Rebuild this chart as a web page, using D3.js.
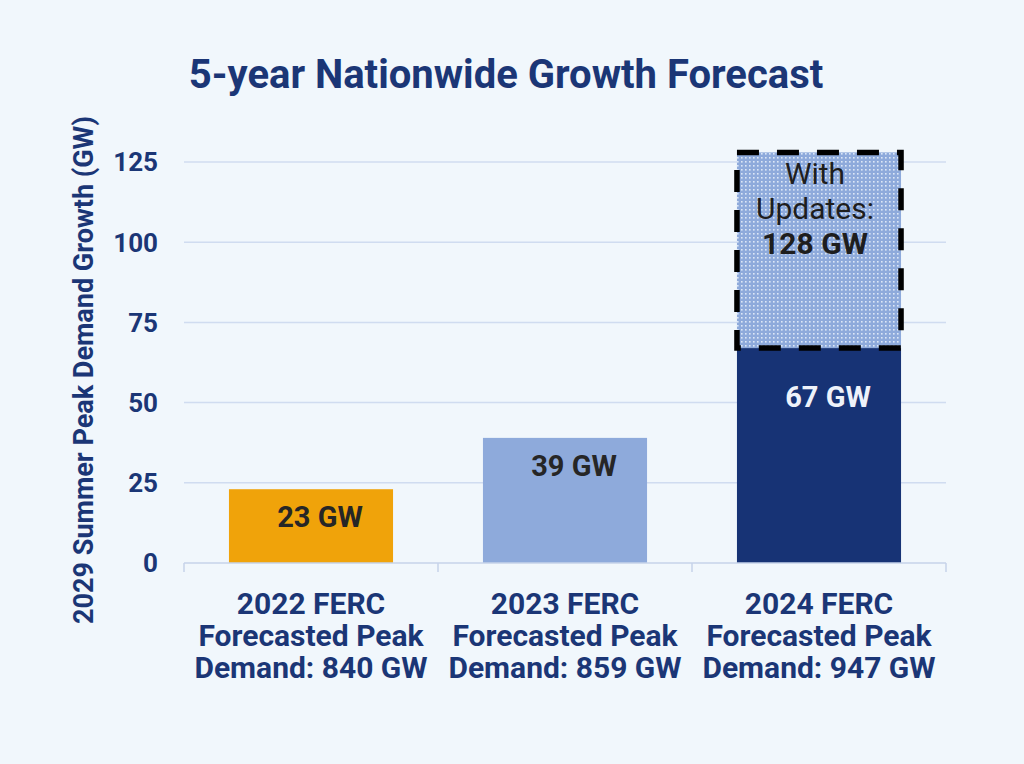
<!DOCTYPE html>
<html><head><meta charset="utf-8">
<script src="https://cdn.jsdelivr.net/npm/d3@7"></script>
<style>
html,body{margin:0;padding:0;background:#f1f7fc;}
svg{display:block;font-family:Roboto, "Liberation Sans", sans-serif;}
</style></head>
<body>
<svg id="chart" width="1024" height="764"></svg>
<script>
const title = "5-year Nationwide Growth Forecast";
const yAxisTitle = "2029 Summer Peak Demand Growth (GW)";
const categories = ["2022", "2023", "2024"];
const categoryLabels = [
  ["2022 FERC", "Forecasted Peak", "Demand: 840 GW"],
  ["2023 FERC", "Forecasted Peak", "Demand: 859 GW"],
  ["2024 FERC", "Forecasted Peak", "Demand: 947 GW"]
];
const baseValues = [23, 39, 67];
const barLabels = ["23 GW", "39 GW", "67 GW"];
const updatedValue = 128;
const updatedCategory = "2024";
const updatedLabel = ["With", "Updates:", "128 GW"];
const yTicks = [0, 25, 50, 75, 100, 125];
const barColors = ["#f0a30a", "#8eaadb", "#173375"];

const navy = "#1b3676";
const svg = d3.select("#chart");
svg.append("rect").attr("width",1024).attr("height",764).attr("fill","#f1f7fc");

const defs = svg.append("defs");
const pat = defs.append("pattern").attr("id","dots").attr("patternUnits","userSpaceOnUse")
  .attr("width",4).attr("height",4);
pat.append("rect").attr("width",4).attr("height",4).attr("fill","#8eaadb");
pat.append("rect").attr("x",1).attr("y",1).attr("width",1.6).attr("height",1.6).attr("fill","#dde7f7");

const x = d3.scaleBand().domain(categories).range([184, 946]).paddingInner(0.354).paddingOuter(0.177);
const y = d3.scaleLinear().domain([0,125]).range([563, 162]);

// gridlines
svg.append("g").selectAll("line").data(yTicks.filter(d=>d>0)).join("line")
  .attr("x1",184).attr("x2",946).attr("y1",d=>y(d)).attr("y2",d=>y(d))
  .attr("stroke","#d0dcf0").attr("stroke-width",1.5);

// y tick labels
svg.append("g").selectAll("text").data(yTicks).join("text")
  .attr("x",158).attr("y",d=>y(d)).attr("dy","0.36em").attr("text-anchor","end")
  .attr("font-size",26).attr("font-weight",700).attr("fill",navy).text(d=>d);

// bars
svg.append("g").selectAll("rect").data(categories).join("rect")
  .attr("x",d=>x(d)).attr("width",x.bandwidth())
  .attr("y",(d,i)=>y(baseValues[i])).attr("height",(d,i)=>y(0)-y(baseValues[i]))
  .attr("fill",(d,i)=>barColors[i]);

// updated box
const ui = categories.indexOf(updatedCategory);
svg.append("rect")
  .attr("x",x(updatedCategory)).attr("width",x.bandwidth())
  .attr("y",y(updatedValue)).attr("height",y(baseValues[ui])-y(updatedValue))
  .attr("fill","url(#dots)").attr("stroke","#000").attr("stroke-width",5.5)
  .attr("stroke-dasharray","22 18");

// x axis line and ticks
const axisColor = "#c6d3ea";
svg.append("line").attr("x1",184).attr("x2",946).attr("y1",y(0)).attr("y2",y(0))
  .attr("stroke",axisColor).attr("stroke-width",1.5);
const bounds = categories.map(c=>x(c)-x.step()*x.paddingInner()/2).concat([946]);
svg.append("g").selectAll("line").data(bounds).join("line")
  .attr("x1",d=>d).attr("x2",d=>d).attr("y1",y(0)).attr("y2",y(0)+9)
  .attr("stroke",axisColor).attr("stroke-width",1.5);

// x category labels
categories.forEach((c,i)=>{
  const cx = x(c)+x.bandwidth()/2;
  svg.append("text").attr("x",cx).attr("y",614).attr("text-anchor","middle")
    .attr("font-size",30).attr("font-weight",700).attr("fill",navy)
    .selectAll("tspan").data(categoryLabels[i]).join("tspan")
    .attr("x",cx).attr("dy",(d,j)=>j===0?0:32).text(d=>d);
});

// bar value labels
categories.forEach((c,i)=>{
  const cx = x(c)+x.bandwidth()/2 + 9;
  const off = i===2 ? 59 : 38;
  svg.append("text").attr("x",cx).attr("y",y(baseValues[i])+off).attr("text-anchor","middle")
    .attr("font-size",29).attr("font-weight",700)
    .attr("fill", i===2 ? "#eef2fa" : "#262626").text(barLabels[i]);
});

// updated label
const ux = x(updatedCategory)+x.bandwidth()/2 - 4;
updatedLabel.forEach((t,j)=>{
  svg.append("text").attr("x",ux).attr("y",y(updatedValue)+32+j*35).attr("text-anchor","middle")
    .attr("font-size",30).attr("font-weight",j===2?700:400).attr("fill","#1e1e1e").text(t);
});

// title
svg.append("text").attr("x",506).attr("y",88).attr("text-anchor","middle")
  .attr("font-size",40).attr("font-weight",700).attr("fill",navy).text(title);

// y axis title
svg.append("text").attr("transform","translate(93,370) rotate(-90)").attr("text-anchor","middle")
  .attr("font-size",27).attr("font-weight",700).attr("fill",navy).text(yAxisTitle);
</script>
</body></html>
